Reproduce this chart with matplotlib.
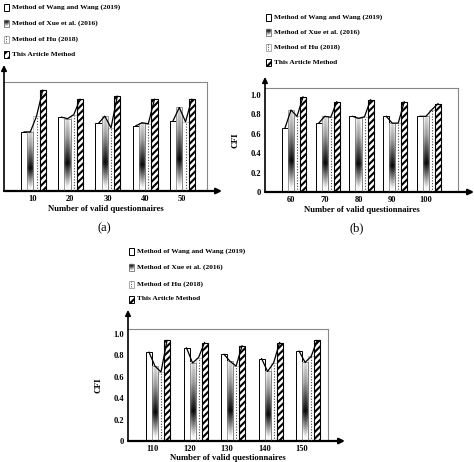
import numpy as np
import matplotlib
matplotlib.use("Agg")
import matplotlib.pyplot as plt
from matplotlib.patches import Rectangle

plt.rcParams['font.family'] = ['Liberation Serif', 'DejaVu Serif']
plt.rcParams['hatch.linewidth'] = 1.5

# ---------------- data ----------------
series_names = ["Method of Wang and Wang (2019)", "Method of Xue et al. (2016)",
                "Method of Hu (2018)", "This Article Method"]

groups_a = [10, 20, 30, 40, 50]
wang_a = [0.58, 0.725, 0.665, 0.64, 0.69]
xue_a = [0.58, 0.71, 0.735, 0.67, 0.82]
hu_a = [0.735, 0.75, 0.62, 0.66, 0.68]
this_a = [0.99, 0.90, 0.93, 0.90, 0.90]

groups_b = [60, 70, 80, 90, 100]
wang_b = [0.66, 0.71, 0.78, 0.78, 0.78]
xue_b = [0.845, 0.78, 0.76, 0.71, 0.78]
hu_b = [0.78, 0.77, 0.775, 0.71, 0.85]
this_b = [0.98, 0.93, 0.95, 0.93, 0.91]

groups_c = [110, 120, 130, 140, 150]
wang_c = [0.83, 0.87, 0.81, 0.77, 0.84]
xue_c = [0.70, 0.73, 0.745, 0.65, 0.735]
hu_c = [0.645, 0.78, 0.70, 0.73, 0.79]
this_c = [0.94, 0.92, 0.89, 0.92, 0.94]

yticks = [0, 0.2, 0.4, 0.6, 0.8, 1.0]
ytick_labels = ["0", "0.2", "0.4", "0.6", "0.8", "1.0"]
xlabel = "Number of valid questionnaires"
ylabel = "CFI"
captions = ["(a)", "(b)"]

W, H = 474, 462
fig = plt.figure(figsize=(W / 100, H / 100), dpi=100)


def grad_img(nx=24, ny=120):
    y = np.linspace(0, 1, ny)[:, None]
    v = np.interp(y, [0, 0.06, 0.38, 0.75, 1.0], [1.0, 0.92, 0.02, 0.6, 0.85])
    x = np.linspace(-1, 1, nx)[None, :]
    h = 0.3 * np.abs(x) ** 2
    return np.clip(v + h, 0, 1)


GRAD = grad_img()


def px_axes(left, right, top, bottom):
    return fig.add_axes([left / W, (H - bottom) / H, (right - left) / W, (bottom - top) / H])


def panel(ax, groups, wang, xue, hu, this, xlim, ytop, bw, off, show_y, arrow_y, arrow_x, lpad):
    n = len(groups)
    pos = np.arange(1, n + 1)
    for i in range(n):
        c = pos[i] + off
        xs = [c + (k - 1.5) * bw for k in range(4)]
        vals = [wang[i], xue[i], hu[i], this[i]]
        # Wang
        ax.bar(xs[0], vals[0], width=bw, color='white', edgecolor='black', linewidth=0.7, zorder=3)
        # Xue gradient
        ax.imshow(GRAD, cmap='gray', vmin=0, vmax=1, origin='lower', aspect='auto',
                  interpolation='bilinear',
                  extent=[xs[1] - bw / 2, xs[1] + bw / 2, 0, vals[1]], zorder=3)
        ax.bar(xs[1], vals[1], width=bw, color='none', edgecolor='#555555', linewidth=0.4, zorder=4)
        # Hu
        ax.bar(xs[2], vals[2], width=bw, color='white', edgecolor='#999999', linewidth=0.4, zorder=3)
        ax.plot([xs[2], xs[2]], [0, vals[2]], color='#444444', linestyle=(0, (1, 1.5)), linewidth=0.8, zorder=4)
        # This article
        ax.bar(xs[3], vals[3], width=bw, color='white', edgecolor='black', hatch='/////',
               linewidth=0.8, zorder=3)
        # connecting line
        ax.plot(xs, vals, color='black', linewidth=0.9, zorder=5)
    ax.set_xlim(*xlim)
    ax.set_ylim(0, ytop)
    ax.set_xticks(pos)
    ax.set_xticklabels([str(g) for g in groups], fontsize=6, fontweight='bold')
    ax.tick_params(length=0, pad=3)
    if show_y:
        ax.set_yticks(yticks)
        ax.set_yticklabels(ytick_labels, fontsize=6, fontweight='bold')
        ax.set_ylabel(ylabel, fontsize=6.5, fontweight='bold', labelpad=8)
    else:
        ax.set_yticks([])
    ax.set_xlabel(xlabel, fontsize=6.2, fontweight='bold', labelpad=lpad)
    for s in ['top', 'right']:
        ax.spines[s].set_color('#888888')
        ax.spines[s].set_linewidth(0.8)
    ax.spines['left'].set_visible(False)
    ax.spines['bottom'].set_visible(False)
    ax.annotate('', xy=(0, arrow_y), xytext=(0, 0), xycoords='axes fraction',
                arrowprops=dict(arrowstyle='-|>', color='black', lw=1.2, mutation_scale=8,
                                shrinkA=0, shrinkB=0), annotation_clip=False)
    ax.annotate('', xy=(arrow_x, 0), xytext=(0, 0), xycoords='axes fraction',
                arrowprops=dict(arrowstyle='-|>', color='black', lw=1.6, mutation_scale=8,
                                shrinkA=0, shrinkB=0), annotation_clip=False)


ax_a = px_axes(4, 207, 82, 191)
panel(ax_a, groups_a, wang_a, xue_a, hu_a, this_a, (0.22, 5.67), 1.07, 0.167, 0.01, False, 1.156, 1.074, 1.0)

ax_b = px_axes(265, 458, 88, 192)
panel(ax_b, groups_b, wang_b, xue_b, hu_b, this_b, (0.23, 5.95), 1.072, 0.178, 0.09, True, 1.106, 1.083, 1.0)

ax_c = px_axes(128, 328, 329, 441)
panel(ax_c, groups_c, wang_c, xue_c, hu_c, this_c, (0.36, 5.69), 1.047, 0.16, 0.16, True, 1.17, 1.085, 0.3)

# ---------------- overlay for legends and captions ----------------
ov = fig.add_axes([0, 0, 1, 1])
ov.set_xlim(0, W)
ov.set_ylim(H, 0)
ov.axis('off')


def legend(x, ys):
    pw, ph = 5, 7
    for k, (y, name) in enumerate(zip(ys, series_names)):
        if k == 0:
            ov.add_patch(Rectangle((x, y - ph / 2), pw, ph, facecolor='white', edgecolor='black', lw=0.7))
        elif k == 1:
            ov.imshow(GRAD, cmap='gray', vmin=0, vmax=1, origin='upper', aspect='auto',
                      extent=[x, x + pw, y + ph / 2, y - ph / 2], interpolation='bilinear')
            ov.add_patch(Rectangle((x, y - ph / 2), pw, ph, facecolor='none', edgecolor='#555555', lw=0.5))
        elif k == 2:
            ov.add_patch(Rectangle((x, y - ph / 2), pw, ph, facecolor='white', edgecolor='#888888', lw=0.5))
            ov.plot([x + pw / 2, x + pw / 2], [y - ph / 2, y + ph / 2], color='#444444',
                    linestyle=(0, (1, 1.5)), lw=0.7)
        else:
            ov.add_patch(Rectangle((x, y - ph / 2), pw, ph, facecolor='white', edgecolor='black',
                                   hatch='////', lw=0.7))
        ov.text(x + 8, y, name, fontsize=5.3, fontweight='bold', va='center', ha='left')


legend(4, [7, 23, 39, 54])
legend(266, [17, 32, 47, 62])
legend(129, [251, 267, 284, 299])

ov.text(104, 228, captions[0], fontsize=9, ha='center', va='center')
ov.text(357, 228, captions[1], fontsize=9, ha='center', va='center')
ov.set_xlim(0, W)
ov.set_ylim(H, 0)

fig.savefig("out.png", dpi=100)
